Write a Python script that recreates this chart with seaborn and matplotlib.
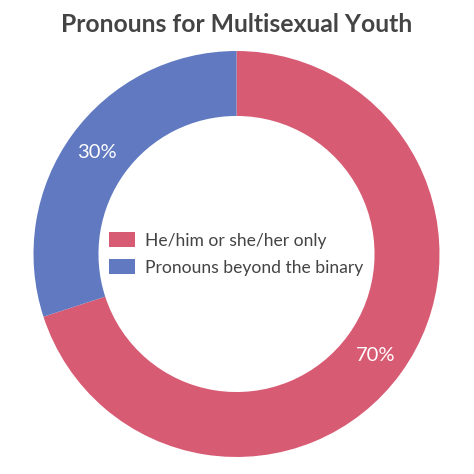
import matplotlib
matplotlib.use("Agg")
import matplotlib.pyplot as plt
import seaborn as sns

categories = ["He/him or she/her only", "Pronouns beyond the binary"]
values = [70, 30]
colors = ["#D85B74", "#6079C0"]

sns.set_theme(style="white")
plt.rcParams['font.family'] = ['Lato', 'DejaVu Sans']

fig = plt.figure(figsize=(4.74, 4.74), dpi=100)
ax = fig.add_axes([0.0707, 0.0359, 0.8565, 0.8565])
wedges, texts, autotexts = ax.pie(
    values, colors=colors, startangle=90, counterclock=False,
    autopct=lambda p: f"{p:.0f}%", pctdistance=0.85,
    wedgeprops=dict(width=0.32, edgecolor="none"),
    textprops=dict(color="white", fontsize=14.5))
ax.set_xlim(-1, 1)
ax.set_ylim(-1, 1)
ax.set_aspect("equal")
ax.axis("off")
leg = ax.legend(wedges, categories, loc="center", frameon=False,
                fontsize=12.6, handlelength=1.45, handleheight=0.95,
                handletextpad=0.6, labelspacing=0.6,
                labelcolor="#444444")
fig.text(0.5, 0.949, "Pronouns for Multisexual Youth", ha="center",
         va="center", fontsize=17.8, fontweight="bold", color="#444444")
fig.savefig("out.png", dpi=100, facecolor="white")
